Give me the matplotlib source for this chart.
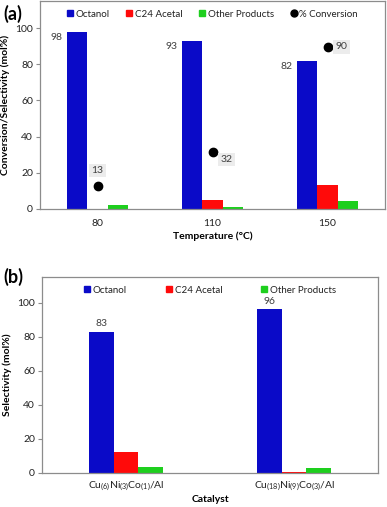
import numpy as np
import matplotlib
matplotlib.use("Agg")
import matplotlib.pyplot as plt
from matplotlib.lines import Line2D
from matplotlib.patches import Patch

plt.rcParams['font.family'] = ['Lato', 'DejaVu Sans']
plt.rcParams['mathtext.fontset'] = 'custom'
plt.rcParams['mathtext.rm'] = 'Lato'
plt.rcParams['mathtext.default'] = 'regular'

# panel (a) data
temps = ["80", "110", "150"]
octanol_a = [98, 93, 82]
acetal_a = [0, 5, 13]
other_a = [2.2, 1.3, 4.2]
conversion_a = [12.5, 31.5, 89.6]

# panel (b) data
catalysts = [r"Cu$_{(6)}$Ni$_{(3)}$Co$_{(1)}$/Al", r"Cu$_{(18)}$Ni$_{(9)}$Co$_{(3)}$/Al"]
octanol_b = [83, 96]
acetal_b = [12.4, 0.4]
other_b = [3.7, 3.2]

BLUE = "#0a0ac8"
RED = "#ff0a0a"
GREEN = "#1ecf1e"
GRAY = "#8c8c8c"
TXT = "#404040"
FS = 7.5

fig = plt.figure(figsize=(3.87, 5.07), dpi=100)
ax1 = fig.add_axes([40 / 387, 298 / 507, 345 / 387, 208 / 507])
ax2 = fig.add_axes([42 / 387, 34 / 507, 336 / 387, 196 / 507])


def style(ax, xpad=7):
    for s in ax.spines.values():
        s.set_color(GRAY)
        s.set_linewidth(0.9)
    ax.set_ylim(0, 115)
    ax.set_yticks([0, 20, 40, 60, 80, 100])
    ax.tick_params(axis="y", length=3, color=GRAY, labelsize=FS, labelcolor="#222222", pad=2)
    ax.tick_params(axis="x", length=0, labelsize=FS, labelcolor="#222222", pad=xpad)


# ---- panel (a)
x = np.arange(len(temps))
w = 0.175
ax1.bar(x - w, octanol_a, w, color=BLUE, label="Octanol")
ax1.bar(x, acetal_a, w, color=RED, label="C24 Acetal")
ax1.bar(x + w, other_a, w, color=GREEN, label="Other Products")
ax1.plot(x, conversion_a, "o", color="black", ms=6, label="% Conversion")
ax1.set_xlim(-0.5, 2.5)
ax1.set_xticks(x)
ax1.set_xticklabels(temps)
style(ax1)
ax1.set_xlabel("Temperature (°C)", fontsize=FS, fontweight="bold", labelpad=3)
ax1.set_ylabel("Conversion/Selectivity (mol%)", fontsize=FS, fontweight="bold", labelpad=4)

for i, v in enumerate(octanol_a):
    ax1.text(x[i] - w - 0.13, v - 3, str(v), fontsize=FS, color=TXT, ha="right", va="center")
box = dict(boxstyle="square,pad=0.2", fc="#ececec", ec="none")
conv_lbl = ["13", "32", "90"]
conv_off = [(0, 9), (0.07, -4), (0.07, 0)]
for i, v in enumerate(conversion_a):
    dx, dy = conv_off[i]
    ax1.text(x[i] + dx, v + dy, conv_lbl[i], fontsize=FS, color=TXT,
             ha="center" if dx == 0 else "left", va="center", bbox=box)

handles = [Patch(color=BLUE), Patch(color=RED), Patch(color=GREEN),
           Line2D([], [], marker="o", ls="none", color="black", ms=5)]
ax1.legend(handles, ["Octanol", "C24 Acetal", "Other Products", "% Conversion"],
           loc="upper center", bbox_to_anchor=(0.5, 1.0), ncol=4, frameon=False,
           fontsize=7, handlelength=0.6, handleheight=0.6, handletextpad=0.3,
           columnspacing=1.7, labelcolor="#222222")
fig.text(3 / 387, 1 - 14 / 507, "(a)", fontsize=13, fontweight="bold", va="center")

# ---- panel (b)
xb = np.arange(len(catalysts))
wb = 0.148
ax2.bar(xb - wb, octanol_b, wb, color=BLUE)
ax2.bar(xb, acetal_b, wb, color=RED)
ax2.bar(xb + wb, other_b, wb, color=GREEN)
ax2.set_xlim(-0.5, 1.5)
ax2.set_xticks(xb)
ax2.set_xticklabels(catalysts)
style(ax2, xpad=5)
ax2.set_xlabel("Catalyst", fontsize=FS, fontweight="bold", labelpad=1)
ax2.set_ylabel("Selectivity (mol%)", fontsize=FS, fontweight="bold", labelpad=4)
for i, v in enumerate(octanol_b):
    ax2.text(xb[i] - wb, v + 2, str(v), fontsize=FS, color=TXT, ha="center", va="bottom")
ax2.legend(handles[:3], ["Octanol", "C24 Acetal", "Other Products"],
           loc="upper center", bbox_to_anchor=(0.5, 1.0), ncol=3, frameon=False,
           fontsize=7, handlelength=0.6, handleheight=0.6, handletextpad=0.3,
           columnspacing=4.0, labelcolor="#222222")
fig.text(3 / 387, 1 - 277 / 507, "(b)", fontsize=13, fontweight="bold", va="center")

fig.savefig("out.png", dpi=100)
